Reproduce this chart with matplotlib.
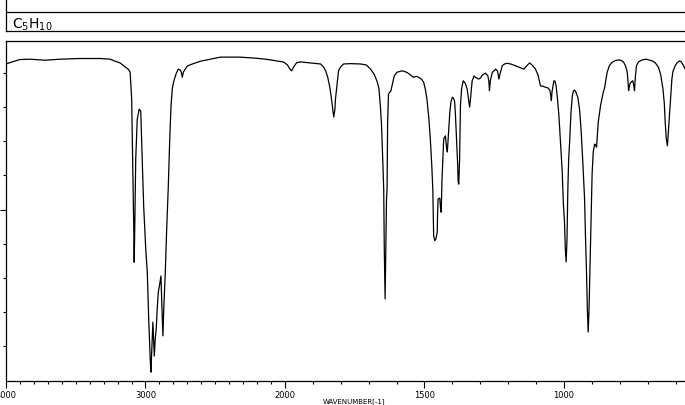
import numpy as np
import matplotlib
matplotlib.use("Agg")
import matplotlib.pyplot as plt
from matplotlib.lines import Line2D
from matplotlib.ticker import FixedLocator, NullFormatter

# IR spectrum of C5H10
formula = r"C$_5$H$_{10}$"
xlabel = "WAVENUMBER[-1]"
tick_values = [4000, 3000, 2000, 1500, 1000]
tick_labels = ["4000", "3000", "2000", "1500", "1000"]

wavenumber = [
    4000, 3957, 3899, 3828, 3720, 3612, 3469, 3325, 3253, 3217, 3181, 3145, 3124, 3110,
    3099, 3092, 3084, 3081, 3077, 3070, 3059, 3045, 3034, 3023, 3013, 2998, 2987, 2977,
    2966, 2961, 2956, 2947, 2941, 2937, 2930, 2923, 2916, 2908, 2898, 2889, 2884, 2875,
    2869, 2858, 2848, 2837, 2826, 2817, 2808, 2797, 2779, 2765, 2750, 2743, 2736, 2729,
    2715, 2700, 2664, 2607, 2535, 2463, 2320, 2212, 2140, 2104, 2047, 2011,
    1991, 1982, 1976, 1969, 1958, 1944, 1908, 1872, 1862, 1854, 1847, 1840, 1833, 1828,
    1825, 1821, 1819, 1815, 1808, 1801, 1790, 1765, 1729, 1708, 1693, 1679, 1669, 1663,
    1658, 1654, 1652, 1649, 1646, 1644, 1641, 1639, 1636, 1634, 1632, 1629, 1620, 1615,
    1608, 1598, 1580, 1574, 1562, 1550, 1540, 1529, 1521, 1511, 1503, 1497, 1491, 1484,
    1479, 1474, 1470, 1467, 1463, 1459, 1454, 1453, 1451, 1445, 1442, 1440, 1437, 1431,
    1425, 1421, 1418, 1415, 1409, 1405, 1400, 1396, 1392, 1389, 1385, 1381, 1379, 1377,
    1374, 1371, 1367, 1361, 1354, 1347, 1342, 1338, 1335, 1329, 1322, 1317, 1306, 1299,
    1292, 1281, 1273, 1269, 1267, 1264, 1257, 1245, 1238, 1233, 1229, 1221, 1213, 1203,
    1191, 1174, 1156, 1144, 1134, 1123, 1114, 1102, 1093, 1084, 1075, 1066, 1057, 1050,
    1047, 1045, 1043, 1036, 1032, 1028, 1023, 1018, 1012, 1006, 1002, 998, 995, 992,
    989, 986, 983, 979, 975, 970, 966, 962, 957, 950, 944, 938, 932, 926,
    923, 919, 916, 913, 910, 907, 902, 899, 895, 890, 887, 883, 880, 877,
    869, 859, 855, 849, 845, 837, 827, 816, 803, 794, 786, 779, 773, 771,
    768, 764, 759, 753, 750, 747, 744, 740, 733, 720, 705, 684, 673, 661,
    653, 645, 640, 637, 633, 629, 625, 621, 617, 613, 609, 601, 594, 586,
    580, 571, 565,
]
transmittance = [
    92.5, 93.1, 93.8, 93.9, 93.6, 93.9, 94.1, 94.1, 93.9, 93.3, 92.8, 91.6, 91.0, 90.1,
    82.2, 64.7, 44.3, 34.6, 44.3, 64.7, 76.4, 79.3, 78.7, 64.7, 51.0, 38.4, 31.7, 18.0,
    6.3, 2.5, 7.8, 17.1, 10.7, 7.2, 12.2, 15.1, 20.9, 25.9, 28.2, 30.6, 23.9, 13.1,
    20.9, 31.7, 44.3, 56.0, 70.6, 80.2, 85.2, 87.5, 89.8, 91.0, 90.7, 90.1, 88.6, 90.1,
    91.0, 91.9, 92.5, 93.3, 93.9, 94.5, 94.5, 94.2, 93.9, 93.7, 93.3, 93.1,
    92.2, 91.0, 90.5, 91.6, 92.9, 93.1, 92.8, 92.5, 91.6, 90.5, 88.7, 86.1, 82.2, 78.7,
    77.0, 79.3, 82.2, 85.2, 90.5, 91.6, 92.5, 92.6, 92.5, 92.2, 91.0, 89.3, 87.2, 85.2,
    80.2, 74.9, 70.6, 63.3, 55.9, 38.5, 23.9, 35.6, 53.1, 56.0, 75.5, 83.7, 84.7, 86.6,
    89.1, 90.1, 90.5, 90.4, 90.0, 89.3, 88.6, 88.9, 88.6, 88.1, 87.2, 85.2, 82.2, 76.4,
    70.6, 63.3, 55.9, 42.3, 40.9, 41.4, 43.5, 48.7, 53.1, 53.3, 50.1, 49.2, 58.8, 70.6,
    71.5, 68.2, 66.8, 70.6, 78.4, 81.4, 82.8, 82.5, 81.6, 77.9, 70.6, 63.3, 58.0, 57.4,
    64.7, 80.2, 85.2, 87.6, 86.9, 85.2, 82.2, 79.9, 82.2, 87.6, 89.0, 88.6, 88.1, 88.4,
    89.3, 89.8, 89.1, 87.5, 84.7, 87.5, 90.0, 91.0, 90.4, 88.1, 89.6, 92.0, 92.5, 92.7,
    92.5, 92.0, 91.4, 91.0, 91.9, 92.8, 92.2, 91.0, 89.3, 86.1, 86.0, 85.7, 85.5, 84.7,
    83.1, 81.8, 84.2, 87.6, 87.5, 86.1, 82.2, 77.4, 69.1, 60.9, 51.6, 46.4, 38.5, 34.7,
    41.4, 55.9, 64.7, 70.6, 77.9, 83.2, 84.6, 84.9, 84.3, 82.7, 79.3, 72.6, 63.3, 53.1,
    42.8, 31.7, 20.9, 14.2, 20.9, 31.7, 51.0, 60.3, 66.8, 69.1, 68.8, 68.2, 72.0, 75.5,
    80.2, 84.3, 85.2, 88.1, 90.1, 92.0, 93.0, 93.5, 93.7, 93.5, 93.0, 91.9, 90.1, 88.1,
    84.7, 86.6, 87.2, 87.6, 86.3, 84.7, 88.7, 92.0, 93.1, 93.7, 93.9, 93.4, 92.9, 91.5,
    89.3, 85.2, 80.8, 75.5, 70.6, 68.6, 73.5, 78.4, 83.7, 88.1, 90.4, 92.0, 92.9, 93.4,
    93.2, 92.0, 91.0,
]


# split wavenumber axis: above 2000 the scale is half as wide
def forward(wn):
    wn = np.asarray(wn, dtype=float)
    return np.where(wn >= 2000, (4000 - wn) * 0.5, 1000 + (2000 - wn))


def inverse(p):
    p = np.asarray(p, dtype=float)
    return np.where(p <= 1000, 4000 - 2 * p, 2000 - (p - 1000))


W, H = 685, 406
fig = plt.figure(figsize=(W / 100, H / 100), dpi=100)
ax = fig.add_axes([6 / W, (H - 381.7) / H, (W - 6) / W, (381.7 - 41.7) / H])

ax.plot(wavenumber, transmittance, color="black", lw=0.9)
ax.set_xscale("function", functions=(forward, inverse))
ax.set_xlim(566, 4000)
if ax.get_xaxis_transform().transform((4000, 0))[0] > ax.get_xaxis_transform().transform((566, 0))[0]:
    ax.set_xlim(4000, 566)
ax.set_ylim(0, 99.3)

ax.spines["right"].set_visible(False)
for s in ["left", "bottom", "top"]:
    ax.spines[s].set_linewidth(0.9)

minor_x = list(range(3900, 2000, -100)) + list(range(1900, 560, -100))
ax.xaxis.set_major_locator(FixedLocator(tick_values))
ax.xaxis.set_minor_locator(FixedLocator(minor_x))
ax.set_xticklabels(tick_labels)
ax.tick_params(axis="x", which="major", direction="out", length=5, width=0.8,
               labelsize=6, pad=2)
ax.tick_params(axis="x", which="minor", direction="out", length=2.5, width=0.8)

ax.yaxis.set_major_locator(FixedLocator([50]))
ax.yaxis.set_minor_locator(FixedLocator([10, 20, 30, 40, 60, 70, 80, 90]))
ax.yaxis.set_major_formatter(NullFormatter())
ax.tick_params(axis="y", which="major", direction="out", length=4.5, width=0.8)
ax.tick_params(axis="y", which="minor", direction="out", length=2, width=0.8)

fig.text(354 / W, 1 - 402 / H, xlabel, fontsize=5, ha="center", va="center")

# header box with the formula
for yy in [13.3, 32.3]:
    fig.add_artist(Line2D([6 / W, 1], [1 - yy / H, 1 - yy / H], color="black", lw=0.9,
                          transform=fig.transFigure))
fig.add_artist(Line2D([6 / W, 6 / W], [1, 1 - 32.3 / H], color="black", lw=0.9,
                      transform=fig.transFigure))
fig.text(12 / W, 1 - 28.3 / H, formula, fontsize=10, ha="left", va="baseline")

fig.savefig("out.png", dpi=100)
